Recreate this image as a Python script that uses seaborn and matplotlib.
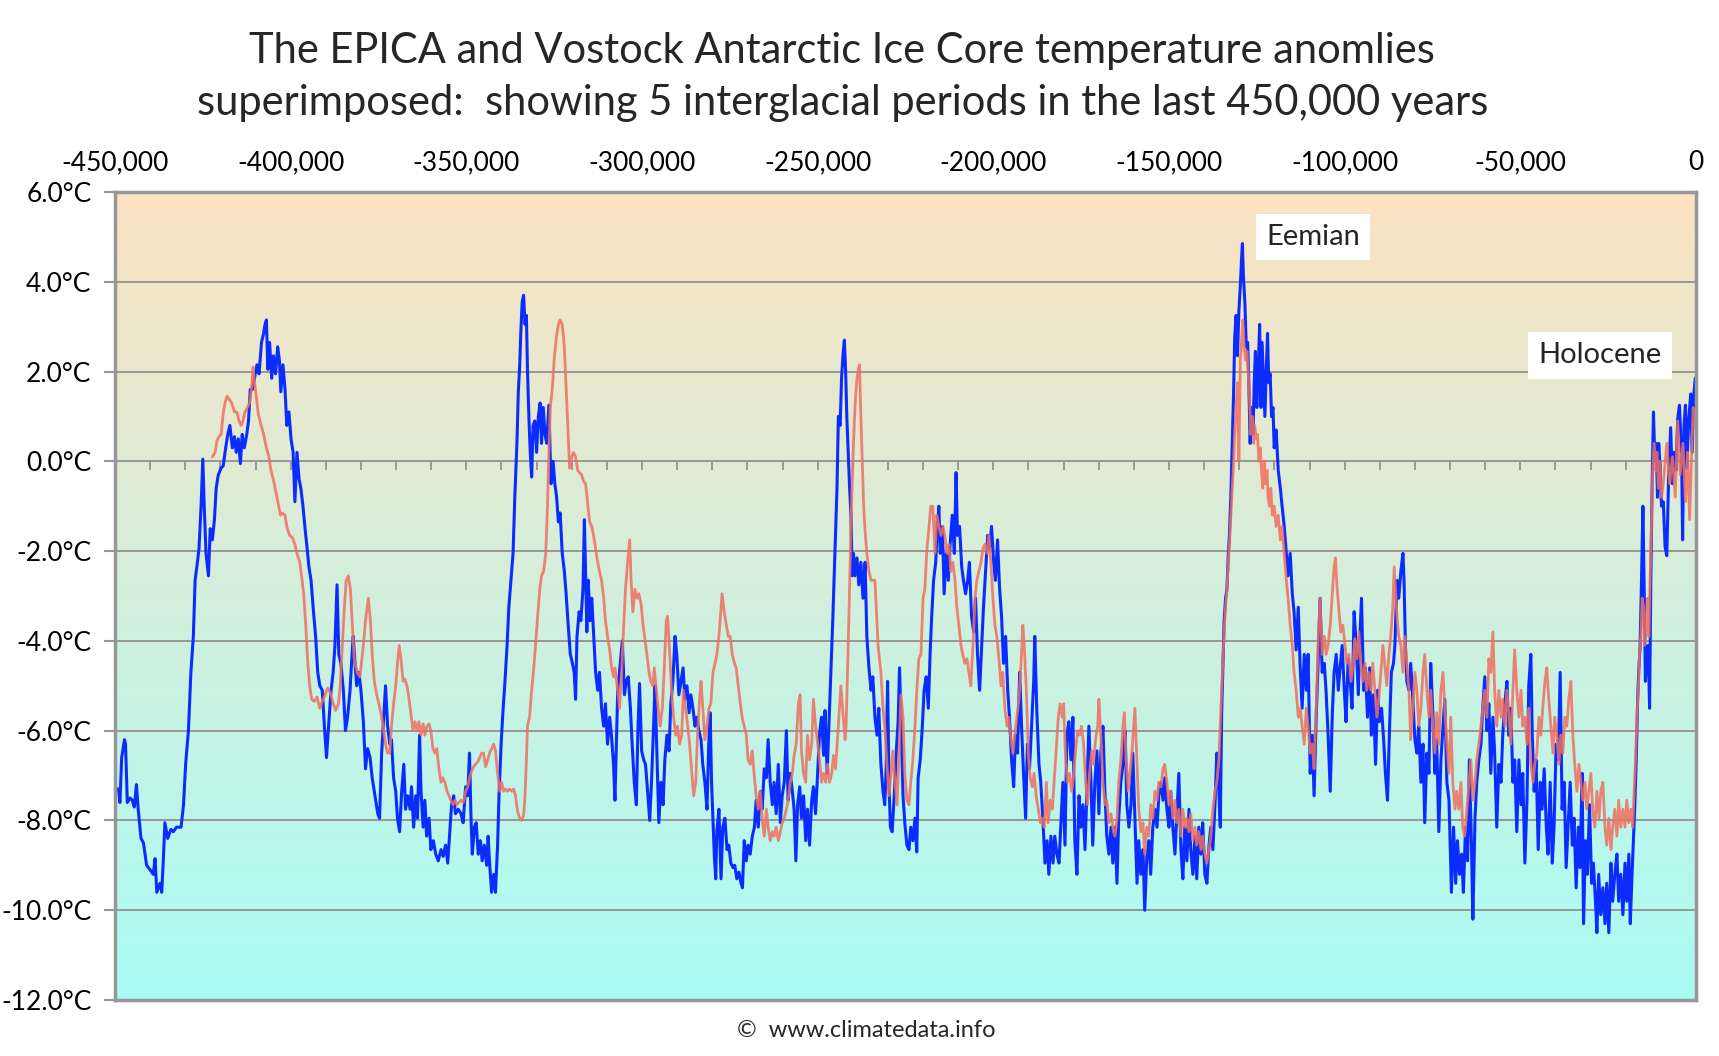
import matplotlib
matplotlib.use("Agg")
import matplotlib.pyplot as plt
import numpy as np
import pandas as pd
import seaborn as sns
from matplotlib.colors import LinearSegmentedColormap
from matplotlib.ticker import FuncFormatter

# (thousand years, temperature anomaly degC)
blue_pts = [
    (-450.0, -7.3), (-449.0, -7.3), (-448.6, -7.6), (-448.1, -6.6), (-447.3, -6.2), (-447.0, -6.3),
    (-446.5, -7.6), (-445.7, -7.5), (-445.1, -7.55), (-444.5, -7.7), (-443.9, -7.2), (-443.4, -7.75),
    (-442.6, -8.4), (-441.9, -8.5), (-441.0, -9.0), (-440.0, -9.1), (-439.1, -9.2), (-438.6, -8.85),
    (-438.1, -9.6), (-437.2, -9.4), (-436.7, -9.6), (-436.2, -8.8), (-435.8, -8.05), (-435.0, -8.4),
    (-434.1, -8.2), (-433.4, -8.25), (-432.5, -8.15), (-431.2, -8.15), (-430.5, -7.65), (-429.9, -6.75),
    (-429.1, -6.0), (-428.4, -4.7), (-427.7, -3.9), (-427.2, -2.65), (-426.7, -2.35), (-426.1, -1.95),
    (-425.5, -1.0), (-425.0, 0.05), (-424.6, -1.0), (-424.1, -2.05), (-423.4, -2.55), (-422.9, -1.5),
    (-422.3, -1.75), (-421.7, -1.3), (-421.2, -0.6), (-420.6, -0.3), (-419.8, -0.15), (-419.2, -0.1),
    (-418.5, 0.3), (-417.9, 0.6), (-417.3, 0.8), (-416.6, 0.3), (-416.0, 0.55), (-415.5, 0.2),
    (-414.9, 0.5), (-414.3, -0.05), (-413.8, 0.6), (-413.2, 0.3), (-412.5, 0.6), (-412.0, 0.9),
    (-411.5, 1.6), (-410.9, 1.6), (-410.3, 1.85), (-409.6, 2.15), (-409.0, 1.95), (-408.3, 2.65),
    (-407.7, 2.85), (-407.3, 3.05), (-406.9, 3.15), (-406.5, 2.05), (-406.0, 2.65), (-405.4, 1.85),
    (-404.9, 2.35), (-404.3, 1.95), (-403.7, 2.55), (-403.2, 2.25), (-402.8, 1.55), (-402.2, 2.15),
    (-401.6, 1.6), (-401.1, 0.8), (-400.5, 1.1), (-399.9, 0.5), (-399.3, 0.2), (-398.8, -0.9),
    (-398.2, 0.2), (-397.6, -0.4), (-397.1, -0.6), (-396.5, -1.0), (-395.9, -1.5), (-395.3, -1.95),
    (-394.8, -2.35), (-394.2, -2.65), (-393.5, -3.35), (-392.9, -3.9), (-392.3, -4.7), (-391.7, -5.0),
    (-391.0, -5.1), (-390.4, -5.9), (-389.8, -6.6), (-389.3, -6.0), (-388.5, -5.1), (-387.9, -4.7),
    (-387.4, -4.1), (-386.8, -2.75), (-386.3, -4.3), (-385.7, -4.5), (-385.0, -5.1), (-384.4, -6.0),
    (-383.8, -5.7), (-383.1, -5.1), (-382.6, -4.4), (-382.2, -3.9), (-381.5, -4.7),
    (-381.2, -5.0), (-380.6, -4.7), (-380.0, -5.1), (-379.3, -5.8), (-378.7, -6.85), (-378.1, -6.4),
    (-377.4, -6.6), (-376.8, -7.05), (-376.0, -7.45), (-375.2, -7.85), (-374.7, -7.95), (-374.1, -6.5),
    (-373.5, -5.7), (-373.0, -5.0), (-372.4, -5.9), (-371.8, -6.3), (-371.3, -6.2), (-370.7, -7.05),
    (-370.1, -7.35), (-369.6, -7.95), (-369.0, -8.25), (-368.4, -7.35), (-367.8, -6.75), (-367.3, -7.75),
    (-366.7, -7.45), (-366.0, -7.75), (-365.6, -7.25), (-365.0, -8.15), (-364.4, -7.45), (-363.9, -7.95),
    (-363.3, -6.1), (-362.9, -7.35), (-362.3, -8.15), (-361.8, -7.55), (-361.3, -8.35), (-360.6, -7.95),
    (-360.1, -8.65), (-359.4, -8.45), (-358.7, -8.75), (-358.0, -8.9), (-357.2, -8.65), (-356.6, -8.8),
    (-355.9, -8.55), (-355.3, -8.95), (-354.8, -8.35), (-354.2, -7.65), (-353.6, -7.45), (-353.1, -7.85),
    (-352.3, -7.75), (-351.5, -7.85), (-350.9, -8.05), (-350.2, -7.25), (-349.6, -7.45), (-349.1, -6.5),
    (-348.7, -7.85), (-348.3, -8.75), (-347.7, -8.15), (-347.2, -8.05), (-346.6, -8.75), (-346.0, -8.45),
    (-345.5, -8.9), (-344.9, -8.55), (-344.2, -9.0), (-343.8, -8.35), (-343.3, -9.05), (-342.8, -9.6),
    (-342.2, -9.2), (-341.7, -9.6), (-341.1, -8.55), (-340.7, -7.45), (-340.1, -6.3), (-339.6, -5.6),
    (-339.0, -4.9), (-338.4, -4.1), (-337.9, -3.25), (-337.3, -2.65), (-336.7, -2.05), (-336.2, -0.8),
    (-335.6, 0.4), (-335.2, 1.55), (-334.8, 2.15), (-334.5, 2.85), (-334.1, 3.55), (-333.7, 3.7),
    (-333.3, 3.05), (-332.9, 3.25), (-332.6, 2.05), (-332.2, 1.0), (-331.8, 0.2), (-331.4, -0.35),
    (-331.0, 0.8), (-330.5, 0.9), (-330.0, 0.2), (-329.5, 1.0), (-329.0, 1.3), (-328.6, 0.4),
    (-328.1, 1.2), (-327.6, 0.6), (-327.1, 0.4), (-326.5, 1.25), (-325.9, -0.5), (-325.3, 0.0),
    (-324.8, -0.5), (-324.3, -0.8), (-323.8, -1.35), (-323.3, -1.15), (-322.7, -2.05), (-322.1, -2.45),
    (-321.6, -2.95), (-321.0, -3.65), (-320.4, -4.3), (-319.8, -4.5), (-319.3, -4.7), (-318.9, -5.3),
    (-318.5, -3.9), (-317.9, -3.35), (-317.4, -3.55), (-316.8, -2.85), (-316.4, -1.3), (-316.0, -2.65),
    (-315.7, -3.8), (-315.3, -2.65), (-314.8, -3.55), (-314.3, -3.05), (-313.8, -3.8), (-313.2, -4.7),
    (-312.6, -5.1), (-312.1, -4.7), (-311.5, -5.5), (-310.9, -5.9), (-310.4, -5.4), (-309.8, -6.3),
    (-309.2, -5.7), (-308.7, -6.1), (-308.1, -6.75),
    (-307.7, -7.55), (-306.9, -5.1), (-306.3, -4.6), (-305.6, -4.0), (-305.0, -5.2), (-304.5, -4.9),
    (-303.9, -4.8), (-303.3, -5.5), (-302.8, -6.3), (-302.2, -7.15), (-301.6, -7.65), (-301.2, -6.1),
    (-300.7, -4.95), (-300.1, -6.45), (-299.5, -6.65), (-299.0, -6.75), (-298.4, -7.35), (-297.8, -8.0),
    (-297.3, -7.15), (-296.7, -5.9), (-296.3, -5.0), (-295.7, -6.65), (-295.2, -8.05), (-294.6, -7.15),
    (-294.0, -7.65), (-293.5, -6.65), (-292.9, -6.1), (-292.3, -6.45), (-291.8, -5.4), (-291.2, -4.9),
    (-290.6, -3.9), (-290.1, -4.3), (-289.5, -5.2), (-288.9, -4.9), (-288.3, -4.6), (-287.8, -5.3),
    (-287.2, -5.0), (-286.6, -5.6), (-286.1, -5.2), (-285.5, -5.5), (-284.9, -5.9), (-284.4, -5.7),
    (-283.8, -6.0), (-283.2, -6.2), (-282.7, -6.75), (-282.1, -7.15), (-281.5, -7.75), (-281.0, -6.3),
    (-280.6, -5.6), (-280.2, -7.15), (-279.8, -7.95), (-279.4, -8.8), (-279.0, -9.3), (-278.7, -8.25),
    (-278.1, -7.75), (-277.5, -9.3), (-277.0, -8.15), (-276.4, -7.95), (-275.8, -8.65), (-275.3, -8.55),
    (-274.7, -8.95), (-274.1, -9.05), (-273.6, -9.0), (-273.0, -9.3), (-272.4, -9.15), (-271.8, -9.4),
    (-271.4, -9.5), (-270.9, -8.45), (-270.3, -8.9), (-269.8, -8.55), (-269.2, -8.75), (-268.6, -8.35),
    (-268.0, -8.15), (-267.5, -7.55), (-266.9, -8.15), (-266.3, -7.35), (-265.8, -7.75), (-265.2, -6.85),
    (-264.6, -7.05), (-264.1, -6.2), (-263.5, -7.15), (-262.9, -7.65), (-262.4, -7.15), (-261.8, -7.85),
    (-261.2, -6.75), (-260.6, -8.05), (-260.1, -7.45), (-259.5, -7.15), (-258.9, -6.0), (-258.4, -7.55),
    (-257.8, -6.95), (-257.2, -7.35), (-256.7, -7.75), (-256.2, -8.9), (-255.7, -7.65), (-255.1, -7.25),
    (-254.6, -7.95), (-254.0, -7.45), (-253.4, -8.45), (-252.9, -7.75), (-252.3, -8.55), (-251.7, -7.55),
    (-251.2, -7.25), (-250.6, -7.85), (-250.0, -6.95), (-249.5, -6.1), (-248.9, -5.7), (-248.3, -6.55),
    (-247.9, -5.55), (-247.3, -6.95), (-246.8, -5.9), (-246.2, -4.7), (-245.7, -3.55), (-245.1, -2.05),
    (-244.5, -0.6), (-244.1, 1.0), (-243.6, 0.8), (-243.2, 1.85), (-242.8, 2.35), (-242.4, 2.7),
    (-242.05, 2.05), (-241.7, 1.0), (-241.3, 0.2), (-240.9, -0.6), (-240.5, -1.2), (-240.2, -2.55),
    (-239.8, -2.05), (-239.4, -2.55), (-238.8, -2.15), (-238.3, -2.75), (-237.7, -2.25), (-237.1, -3.05),
    (-236.5, -2.25), (-236.0, -3.9), (-235.4, -4.6), (-234.8, -5.1), (-234.3, -4.8),
    (-233.7, -5.7), (-233.1, -6.1), (-232.6, -5.5), (-232.0, -6.75), (-231.4, -7.35), (-230.9, -7.65),
    (-230.5, -6.85), (-230.1, -4.9), (-229.7, -7.15), (-229.3, -8.15), (-228.8, -8.25), (-228.2, -7.45),
    (-227.6, -6.45), (-227.1, -5.8), (-226.7, -4.6), (-226.3, -5.7), (-225.7, -7.45), (-225.2, -8.05),
    (-224.6, -8.55), (-224.0, -8.65), (-223.5, -8.15), (-222.9, -8.45), (-222.3, -7.95), (-221.8, -8.7),
    (-221.4, -7.05), (-220.8, -6.65), (-220.2, -5.9), (-219.7, -5.1), (-219.1, -4.8), (-218.5, -5.5),
    (-218.0, -4.3), (-217.6, -3.55), (-217.0, -2.65), (-216.4, -2.25), (-215.9, -1.45), (-215.5, -1.0),
    (-215.1, -2.05), (-214.5, -1.45), (-214.0, -2.95), (-213.4, -2.05), (-212.8, -2.65), (-212.3, -1.85),
    (-211.7, -1.2), (-211.1, -2.05), (-210.6, -0.25), (-210.2, -1.65), (-209.6, -1.45), (-209.0, -2.35),
    (-208.5, -2.65), (-207.9, -2.95), (-207.3, -2.65), (-206.8, -2.25), (-206.2, -3.45), (-205.6, -3.8),
    (-205.05, -3.05), (-204.5, -4.3), (-203.9, -5.1), (-203.3, -4.1), (-202.8, -3.25), (-202.2, -2.45),
    (-201.6, -1.65), (-201.1, -1.95), (-200.5, -1.45), (-199.9, -2.25), (-199.4, -2.65), (-198.8, -1.75),
    (-198.2, -2.85), (-197.65, -3.45), (-197.1, -4.5), (-196.5, -3.9), (-195.9, -5.1), (-195.4, -5.7),
    (-194.8, -6.65), (-194.2, -7.25), (-193.7, -6.1), (-193.1, -6.5), (-192.5, -4.7), (-191.96, -5.9),
    (-191.4, -6.95), (-190.8, -7.95), (-190.3, -6.3), (-189.7, -6.85), (-189.1, -5.9), (-188.5, -4.9),
    (-188.2, -3.9), (-187.6, -5.6), (-187.0, -6.75), (-186.5, -7.15), (-185.9, -7.95), (-185.3, -8.95),
    (-184.7, -8.45), (-184.2, -9.2), (-183.6, -8.35), (-183.0, -8.95), (-182.5, -8.35), (-181.9, -8.75),
    (-181.3, -8.95), (-180.8, -8.15), (-180.2, -7.15), (-179.6, -8.55), (-179.05, -6.1), (-178.5, -5.8),
    (-177.9, -6.65), (-177.35, -5.7), (-176.8, -8.45), (-176.2, -9.2), (-175.6, -7.45), (-175.1, -8.15),
    (-174.5, -7.65), (-173.9, -8.65), (-173.4, -7.45), (-172.8, -5.9), (-172.2, -7.15), (-171.7, -8.55),
    (-171.1, -7.15), (-170.5, -6.45), (-169.95, -7.85), (-169.4, -6.5), (-168.8, -5.9), (-168.2, -7.45),
    (-167.7, -8.35), (-167.1, -8.75), (-166.5, -8.15), (-166.0, -8.95), (-165.4, -8.15), (-164.8, -9.4),
    (-164.3, -7.95), (-163.7, -7.15), (-163.1, -6.75), (-162.5, -6.0), (-162.0, -7.65), (-161.4, -8.15),
    (-160.8, -7.65), (-160.3, -6.5),
    (-159.7, -7.95), (-159.1, -9.4), (-158.6, -8.45), (-158.0, -9.2), (-157.4, -8.65), (-156.9, -10.0),
    (-156.3, -8.8), (-155.7, -8.45), (-155.2, -9.2), (-154.6, -8.15), (-154.0, -7.75), (-153.4, -8.15),
    (-152.9, -7.45), (-152.3, -7.15), (-151.7, -7.55), (-151.2, -7.05), (-150.6, -7.75), (-150.0, -8.15),
    (-149.5, -7.35), (-148.9, -8.15), (-148.3, -8.75), (-147.8, -7.95), (-147.2, -6.95), (-146.6, -8.65),
    (-146.05, -9.3), (-145.5, -8.15), (-144.9, -8.9), (-144.3, -7.75), (-143.8, -8.65), (-143.2, -9.2),
    (-142.6, -8.35), (-142.1, -9.3), (-141.5, -8.15), (-140.9, -8.75), (-140.4, -8.05), (-139.8, -9.2),
    (-139.2, -9.4), (-138.6, -8.55), (-138.1, -8.15), (-137.5, -8.65), (-136.9, -7.65), (-136.4, -6.5),
    (-136.0, -6.95), (-135.4, -8.15), (-135.0, -5.6), (-134.7, -4.7), (-134.3, -3.55), (-133.9, -3.05),
    (-133.5, -2.85), (-133.1, -2.05), (-132.8, -1.65), (-132.4, -0.8), (-132.0, 0.4), (-131.6, 1.55),
    (-131.3, 2.75), (-130.9, 3.25), (-130.5, 2.35), (-130.1, 3.35), (-129.7, 3.9), (-129.35, 4.5),
    (-129.1, 4.85), (-128.8, 4.1), (-128.4, 3.55), (-128.0, 2.55), (-127.6, 2.65), (-127.3, 1.85),
    (-126.9, 0.4), (-126.5, 1.2), (-126.1, 0.6), (-125.7, 1.85), (-125.4, 2.45), (-125.0, 1.2),
    (-124.6, 2.05), (-124.2, 3.05), (-123.8, 1.2), (-123.5, 2.65), (-123.1, 1.85), (-122.7, 1.0),
    (-122.3, 2.05), (-121.95, 2.85), (-121.6, 1.75), (-121.2, 1.95), (-120.8, 1.0), (-120.4, 1.2),
    (-120.05, 0.3), (-119.5, 0.7), (-118.9, -0.2), (-118.3, -0.6), (-117.8, -1.0), (-117.2, -1.45),
    (-116.6, -2.05), (-116.1, -2.55), (-115.5, -2.05), (-114.9, -2.95), (-114.4, -3.35), (-113.8, -4.2),
    (-113.2, -3.25), (-112.7, -4.5), (-112.1, -5.5), (-111.5, -4.3), (-110.9, -5.1), (-110.4, -4.3),
    (-109.8, -6.95), (-109.2, -6.1), (-108.7, -7.45), (-108.1, -5.7), (-107.5, -4.4), (-107.0, -3.05),
    (-106.4, -4.7), (-105.8, -4.5), (-105.3, -5.1), (-104.7, -6.1), (-104.1, -7.35), (-103.5, -5.6),
    (-103.0, -4.7), (-102.4, -4.3), (-101.8, -5.1), (-101.3, -4.6), (-100.7, -4.1), (-100.1, -5.1),
    (-99.6, -5.8), (-99.0, -4.4), (-98.4, -4.9), (-97.9, -5.5), (-97.3, -3.35), (-96.7, -4.1),
    (-96.1, -5.2), (-95.6, -3.8), (-95.2, -3.05), (-94.6, -5.1), (-94.1, -4.6), (-93.5, -5.7),
    (-92.9, -4.6), (-92.4, -6.1), (-91.8, -5.2), (-91.2, -6.75), (-90.6, -5.1), (-90.1, -5.8),
    (-89.5, -5.5), (-88.9, -6.2), (-88.4, -6.95), (-87.8, -7.55), (-87.2, -5.9), (-86.7, -4.7),
    (-86.1, -4.5),
    (-85.7, -4.1), (-85.1, -2.65), (-84.6, -3.05), (-84.0, -2.45), (-83.4, -2.05), (-83.1, -2.65),
    (-82.7, -4.1), (-82.3, -4.9), (-81.7, -5.1), (-81.2, -4.5), (-80.6, -5.3), (-80.0, -6.2),
    (-79.45, -6.5), (-78.9, -5.9), (-78.3, -7.15), (-77.7, -6.3), (-77.2, -8.05), (-76.6, -6.5),
    (-76.0, -6.95), (-75.5, -4.5), (-74.9, -5.6), (-74.3, -6.95), (-73.8, -6.2), (-73.2, -8.25),
    (-72.6, -6.65), (-72.0, -5.9), (-71.5, -5.3), (-70.9, -7.15), (-70.3, -7.55), (-69.95, -8.55),
    (-69.6, -9.6), (-69.0, -8.15), (-68.4, -9.4), (-67.9, -8.45), (-67.3, -9.2), (-66.7, -8.75),
    (-66.2, -9.6), (-65.6, -8.15), (-65.0, -8.9), (-64.5, -6.65), (-63.9, -8.55), (-63.5, -10.2),
    (-62.9, -7.95), (-62.4, -7.15), (-61.8, -6.65), (-61.2, -6.3), (-60.7, -5.5), (-60.1, -4.8),
    (-59.5, -6.0), (-58.95, -5.4), (-58.4, -6.95), (-57.8, -5.7), (-57.3, -6.5), (-56.7, -8.15),
    (-56.1, -6.75), (-55.5, -7.15), (-55.0, -6.1), (-54.4, -5.4), (-53.8, -4.9), (-53.3, -6.1),
    (-52.7, -5.5), (-52.1, -7.15), (-51.6, -6.65), (-51.0, -8.25), (-50.4, -6.65), (-49.8, -7.65),
    (-49.3, -6.95), (-48.7, -8.95), (-48.1, -7.55), (-47.6, -5.0), (-47.0, -4.3), (-46.6, -6.1),
    (-46.05, -7.35), (-45.5, -6.65), (-44.9, -8.65), (-44.3, -7.15), (-43.8, -7.75), (-43.2, -6.85),
    (-42.6, -8.15), (-42.1, -8.75), (-41.5, -7.15), (-40.9, -8.95), (-40.4, -8.15), (-39.8, -6.3),
    (-39.2, -6.65), (-38.65, -4.7), (-38.1, -7.75), (-37.5, -7.15), (-36.95, -9.05), (-36.4, -8.15),
    (-35.8, -7.15), (-35.2, -8.55), (-34.7, -7.95), (-34.1, -9.5), (-33.5, -8.15), (-33.0, -9.05),
    (-32.4, -6.95), (-32.0, -10.3), (-31.45, -8.45), (-30.9, -9.2), (-30.3, -7.65), (-29.7, -9.4),
    (-29.2, -8.95), (-28.6, -9.8), (-28.2, -10.5), (-27.7, -9.2), (-27.1, -10.1), (-26.5, -9.5),
    (-25.9, -10.3), (-25.4, -9.4), (-24.8, -10.5), (-24.2, -8.95), (-23.7, -9.8), (-23.1, -9.2),
    (-22.5, -8.75), (-22.0, -9.8), (-21.4, -9.2), (-20.8, -10.1), (-20.2, -8.95), (-19.7, -9.8),
    (-19.1, -8.75), (-18.7, -10.3), (-18.2, -9.2), (-17.8, -8.45), (-17.4, -7.65), (-17.0, -6.65),
    (-16.6, -5.3), (-16.3, -4.7), (-15.9, -4.1), (-15.5, -2.65), (-15.1, -1.0), (-14.7, -3.05),
    (-14.4, -4.9), (-14.0, -4.3), (-13.6, -4.1), (-13.2, -5.5), (-12.85, -2.65), (-12.5, -0.6),
    (-12.1, 1.1), (-11.7, 0.0), (-11.3, 0.4), (-10.95, -0.8), (-10.6, 0.4), (-10.2, -0.2),
    (-9.8, -1.0), (-9.3, -0.9), (-8.8, -1.9), (-8.3, -2.1), (-7.8, -0.4), (-7.2, 0.75),
    (-6.7, -0.5), (-6.2, 0.2), (-5.7, -0.2), (-5.2, 0.95), (-4.7, 1.25), (-4.1, 0.2),
    (-3.8, -1.75), (-3.4, 0.8), (-3.0, 1.25), (-2.6, -0.15), (-2.05, 0.95), (-1.5, 1.5),
    (-1.1, 0.2), (-0.6, 1.5), (-0.2, 1.85),
]

red_pts = [
    (-422.3, 0.1), (-421.5, 0.2), (-421.0, 0.45), (-420.4, 0.55), (-419.8, 0.6), (-419.3, 1.0),
    (-418.7, 1.3), (-418.1, 1.45), (-417.6, 1.4), (-416.8, 1.3), (-416.0, 1.1), (-415.3, 1.1),
    (-414.7, 0.9), (-414.1, 0.8), (-413.6, 0.9), (-413.0, 1.1), (-412.3, 1.2), (-411.7, 1.3),
    (-411.1, 1.65), (-410.7, 2.1), (-410.4, 1.85), (-409.8, 1.45), (-409.2, 1.05), (-408.4, 0.8),
    (-407.7, 0.6), (-406.9, 0.3), (-406.2, 0.1), (-405.6, -0.2), (-404.8, -0.45), (-404.3, -0.65),
    (-403.7, -0.9), (-402.9, -1.2), (-402.4, -1.15), (-401.6, -1.2), (-401.1, -1.45), (-400.3, -1.65),
    (-399.5, -1.7), (-398.8, -1.85), (-398.2, -2.05), (-397.4, -2.25), (-396.9, -2.55), (-396.3, -2.95),
    (-395.7, -3.65), (-395.2, -4.4), (-394.6, -5.0), (-394.0, -5.3), (-393.3, -5.35), (-392.5, -5.25),
    (-391.7, -5.5), (-391.0, -5.35), (-390.2, -5.2), (-389.5, -5.05), (-388.7, -5.15), (-387.9, -5.4),
    (-387.2, -5.55), (-386.4, -5.4), (-385.9, -5.0), (-385.3, -4.1), (-384.7, -3.25), (-384.2, -2.65),
    (-383.6, -2.55), (-383.0, -2.85), (-382.5, -3.55), (-381.9, -4.4), (-381.1, -4.7),
    (-380.3, -4.8), (-379.3, -4.1), (-378.7, -3.55), (-377.9, -3.05), (-377.3, -3.55), (-376.8, -4.3),
    (-376.2, -4.9), (-375.5, -5.2), (-374.9, -5.4), (-374.1, -5.7), (-373.5, -6.0), (-373.0, -6.3),
    (-372.4, -6.5), (-371.8, -6.5), (-371.3, -5.9), (-370.7, -5.4), (-370.1, -5.0), (-369.6, -4.5),
    (-369.1, -4.1), (-368.6, -4.4), (-368.0, -4.9), (-367.5, -4.85), (-366.9, -5.0), (-366.3, -5.3),
    (-365.8, -5.6), (-365.2, -6.0), (-364.6, -5.8), (-364.05, -6.0), (-363.5, -5.8), (-362.9, -6.1),
    (-362.3, -5.85), (-361.8, -6.1), (-361.2, -5.9), (-360.6, -5.85), (-360.1, -6.0), (-359.5, -6.4),
    (-358.9, -6.5), (-358.4, -6.4), (-357.8, -6.85), (-357.2, -7.15), (-356.7, -7.05), (-356.1, -7.15),
    (-355.5, -7.35), (-354.95, -7.45), (-354.4, -7.55), (-353.8, -7.65), (-353.2, -7.55), (-352.7, -7.65),
    (-352.1, -7.6), (-351.5, -7.55), (-350.8, -7.6), (-350.2, -7.35), (-349.6, -7.25), (-349.1, -7.05),
    (-348.5, -6.9), (-347.9, -6.8), (-347.4, -6.75), (-346.8, -6.7), (-346.2, -6.6), (-345.6, -6.5),
    (-345.1, -6.5), (-344.5, -6.8), (-343.9, -6.65), (-343.4, -6.5), (-342.8, -6.4), (-342.2, -6.3),
    (-341.7, -6.45), (-341.1, -6.95), (-340.5, -7.35), (-339.96, -7.15), (-339.4, -7.35), (-338.8, -7.3),
    (-338.3, -7.35), (-337.7, -7.3), (-337.1, -7.35), (-336.5, -7.3), (-336.0, -7.45), (-335.4, -7.8),
    (-334.8, -7.95), (-334.3, -8.0), (-333.7, -7.9), (-333.3, -7.45), (-332.9, -6.65), (-332.6, -5.9),
    (-332.0, -5.7), (-331.4, -5.1), (-330.8, -4.6), (-330.3, -4.1), (-329.7, -3.45), (-329.1, -2.85),
    (-328.6, -2.55), (-328.0, -2.45), (-327.4, -2.05), (-326.9, -1.0), (-326.5, 0.2), (-326.1, 1.2),
    (-325.5, 1.65), (-325.0, 2.25), (-324.4, 2.75), (-323.8, 3.05), (-323.3, 3.15), (-322.7, 3.05),
    (-322.1, 2.55), (-321.55, 1.55), (-321.0, 0.6), (-320.6, -0.15), (-320.0, 0.1), (-319.5, 0.2),
    (-318.9, 0.1), (-318.3, -0.2), (-317.8, -0.25), (-317.2, -0.3), (-316.6, -0.45), (-316.05, -0.5),
    (-315.5, -0.9), (-314.9, -1.35), (-314.3, -1.45), (-313.8, -1.65), (-313.2, -1.95), (-312.6, -2.25),
    (-312.1, -2.45), (-311.5, -2.65), (-310.9, -3.05), (-310.4, -3.55), (-309.8, -3.9), (-309.2, -4.2),
    (-308.65, -4.6), (-308.1, -4.8),
    (-307.7, -4.6), (-306.9, -5.1), (-306.4, -5.5), (-305.8, -4.7), (-305.2, -3.65), (-304.7, -2.85),
    (-304.1, -2.25), (-303.5, -1.75), (-303.1, -2.65), (-302.6, -3.35), (-302.0, -2.85), (-301.4, -3.05),
    (-300.9, -2.95), (-300.3, -3.15), (-299.7, -3.65), (-299.2, -3.95), (-298.6, -4.3), (-298.0, -4.7),
    (-297.5, -4.9), (-296.9, -5.0), (-296.5, -4.6), (-295.9, -5.1), (-295.4, -5.5), (-294.8, -5.9),
    (-294.2, -5.5), (-293.7, -4.7), (-293.1, -3.55), (-292.7, -3.45), (-292.1, -4.3), (-291.6, -5.1),
    (-291.0, -5.7), (-290.4, -6.1), (-289.9, -5.9), (-289.3, -6.3), (-288.7, -6.1), (-288.2, -5.1),
    (-287.6, -5.5), (-287.0, -5.9), (-286.45, -6.3), (-285.9, -6.85), (-285.3, -7.45), (-284.7, -7.15),
    (-284.2, -6.1), (-283.6, -5.3), (-283.2, -4.9), (-282.7, -5.5), (-282.1, -6.2), (-281.5, -5.9),
    (-280.95, -5.5), (-280.4, -5.4), (-279.8, -4.7), (-279.2, -4.5), (-278.7, -4.3), (-278.1, -3.9),
    (-277.5, -3.25), (-277.2, -2.95), (-276.6, -3.35), (-276.0, -3.65), (-275.4, -3.9), (-274.9, -3.9),
    (-274.3, -4.3), (-273.7, -4.5), (-273.2, -4.6), (-272.6, -5.0), (-272.0, -5.4), (-271.5, -5.7),
    (-270.9, -5.9), (-270.3, -6.1), (-269.8, -6.65), (-269.2, -6.75), (-268.6, -6.45), (-268.1, -6.95),
    (-267.5, -7.45), (-266.9, -7.75), (-266.3, -7.35), (-265.8, -7.95), (-265.2, -8.35), (-264.6, -7.75),
    (-264.1, -8.15), (-263.5, -8.45), (-262.9, -8.25), (-262.4, -8.35), (-261.8, -8.15), (-261.2, -8.45),
    (-260.6, -8.25), (-260.1, -8.05), (-259.5, -7.95), (-258.9, -7.75), (-258.4, -7.55), (-257.8, -7.15),
    (-257.2, -6.95), (-256.7, -6.55), (-256.1, -6.3), (-255.5, -5.4), (-255.0, -5.2), (-254.6, -6.45),
    (-254.0, -6.95), (-253.4, -7.15), (-252.9, -6.1), (-252.3, -6.65), (-251.7, -6.3), (-251.2, -5.3),
    (-250.6, -5.9), (-250.0, -6.3), (-249.45, -6.65), (-248.9, -7.15), (-248.3, -6.95), (-247.7, -7.15),
    (-247.2, -6.75), (-246.6, -7.15), (-246.0, -6.95), (-245.5, -6.55), (-244.9, -6.85), (-244.3, -6.1),
    (-243.8, -5.5), (-243.4, -5.0), (-242.8, -5.6), (-242.2, -6.2), (-241.9, -5.9), (-241.5, -4.7),
    (-241.1, -3.45), (-240.7, -2.05), (-240.3, -0.8), (-239.9, 0.2), (-239.6, 0.8), (-239.2, 1.45),
    (-238.8, 1.85), (-238.4, 2.05), (-238.1, 2.15), (-237.7, 1.0), (-237.3, 0.0), (-236.9, -1.0),
    (-236.5, -1.55), (-236.0, -2.05), (-235.4, -2.45), (-234.8, -2.65),
    (-233.7, -2.65), (-232.8, -4.1), (-232.0, -4.7), (-231.4, -5.5), (-230.9, -5.9), (-230.3, -6.75),
    (-229.7, -7.45), (-229.1, -6.95), (-228.6, -6.45), (-228.0, -7.15), (-227.4, -7.65), (-226.9, -6.65),
    (-226.3, -5.2), (-225.7, -5.7), (-225.2, -6.95), (-224.6, -7.55), (-224.0, -7.65), (-223.5, -7.15),
    (-222.9, -6.65), (-222.3, -5.9), (-221.7, -5.0), (-221.2, -4.4), (-220.6, -4.3), (-220.0, -3.05),
    (-219.5, -2.85), (-218.9, -1.95), (-218.3, -1.45), (-217.8, -1.0), (-217.2, -1.0), (-216.6, -2.05),
    (-216.1, -1.2), (-215.5, -1.45), (-214.9, -1.65), (-214.3, -1.45), (-213.8, -1.65), (-213.2, -2.05),
    (-212.6, -1.85), (-212.1, -2.45), (-211.5, -2.25), (-210.9, -2.65), (-210.4, -3.25), (-209.8, -3.65),
    (-209.2, -4.1), (-208.7, -4.3), (-208.1, -4.5), (-207.5, -4.4), (-206.95, -4.7), (-206.4, -5.0),
    (-205.8, -4.1), (-205.2, -3.05), (-204.7, -2.65), (-204.1, -2.45), (-203.5, -2.25), (-203.0, -1.95),
    (-202.4, -1.85), (-201.8, -2.05), (-201.25, -1.65), (-200.7, -2.25), (-200.1, -3.05), (-199.55, -3.65),
    (-199.0, -3.9), (-198.4, -4.4), (-197.8, -5.0), (-197.3, -4.7), (-196.7, -5.5), (-196.1, -5.9),
    (-195.6, -5.7), (-195.0, -6.2), (-194.4, -6.5), (-193.9, -6.1), (-193.3, -5.7), (-192.7, -5.3),
    (-192.1, -4.5), (-191.6, -3.65), (-191.2, -4.1), (-190.6, -5.1), (-190.05, -6.5), (-189.5, -7.05),
    (-188.9, -7.25), (-188.4, -6.95), (-187.8, -7.45), (-187.2, -7.75), (-186.6, -8.05), (-186.1, -7.95),
    (-185.5, -8.15), (-184.9, -7.15), (-184.4, -8.05), (-183.8, -7.55), (-183.2, -7.75), (-182.7, -7.15),
    (-182.1, -6.45), (-181.5, -5.7), (-181.0, -5.4), (-180.4, -5.7), (-180.0, -5.4), (-179.4, -6.65),
    (-178.9, -7.15), (-178.3, -6.95), (-177.7, -7.35), (-177.2, -7.05), (-176.6, -6.45), (-176.0, -6.0),
    (-175.45, -6.1), (-174.9, -5.9), (-174.3, -6.3), (-173.7, -7.15), (-173.2, -7.65), (-172.6, -6.95),
    (-172.0, -6.45), (-171.5, -6.75), (-170.9, -6.2), (-170.3, -5.9), (-169.95, -5.3), (-169.4, -6.1),
    (-168.8, -7.15), (-168.2, -7.65), (-167.7, -7.55), (-167.1, -8.05), (-166.5, -7.85), (-166.0, -8.15),
    (-165.4, -8.35), (-164.8, -7.95), (-164.3, -7.15), (-163.7, -6.65), (-163.1, -5.9), (-162.7, -5.6),
    (-162.2, -6.65), (-161.6, -7.35), (-161.0, -6.85), (-160.5, -6.45),
    (-159.7, -5.5), (-159.1, -6.75), (-158.6, -7.75), (-158.0, -8.25), (-157.4, -8.05), (-156.9, -8.75),
    (-156.3, -8.15), (-155.7, -8.35), (-155.2, -7.65), (-154.6, -7.95), (-154.0, -7.35), (-153.4, -7.55),
    (-152.9, -7.15), (-152.3, -7.25), (-151.7, -6.85), (-151.2, -6.75), (-150.6, -7.15), (-150.0, -7.65),
    (-149.5, -7.35), (-148.9, -7.95), (-148.3, -7.55), (-147.8, -8.05), (-147.2, -7.75), (-146.6, -8.35),
    (-146.05, -7.75), (-145.5, -8.15), (-144.9, -7.95), (-144.3, -8.25), (-143.8, -7.85), (-143.2, -8.45),
    (-142.6, -8.15), (-142.1, -8.55), (-141.5, -8.25), (-140.9, -8.65), (-140.4, -8.35), (-139.8, -8.75),
    (-139.2, -8.95), (-138.6, -8.65), (-138.1, -8.35), (-137.5, -7.75), (-136.9, -7.35), (-136.4, -7.15),
    (-135.8, -6.65), (-135.4, -5.9), (-135.0, -5.1), (-134.7, -4.5), (-134.3, -3.8), (-133.9, -3.25),
    (-133.5, -2.85), (-133.1, -2.25), (-132.8, -1.85), (-132.4, -1.2), (-132.0, -0.6), (-131.6, 0.0),
    (-131.3, 0.6), (-130.9, 1.2), (-130.5, 1.75), (-130.1, 0.0), (-129.7, 2.25), (-129.35, 2.65),
    (-129.0, 3.15), (-128.6, 2.55), (-128.2, 2.25), (-127.8, 2.45), (-127.5, 2.05), (-127.1, 1.45),
    (-126.7, 0.6), (-126.3, 1.0), (-125.9, 0.4), (-125.6, 0.8), (-125.2, 0.5), (-124.8, 0.6),
    (-124.4, 0.0), (-124.0, 0.3), (-123.7, -0.2), (-123.3, -0.6), (-122.9, 0.0), (-122.5, -0.5),
    (-122.1, -0.2), (-121.8, -0.8), (-121.4, -1.0), (-121.0, -0.6), (-120.6, -1.2), (-120.05, -1.0),
    (-119.5, -1.45), (-118.9, -1.2), (-118.3, -1.75), (-117.8, -1.45), (-117.2, -2.05), (-116.6, -2.65),
    (-116.1, -3.05), (-115.5, -3.65), (-114.9, -4.1), (-114.4, -4.7), (-113.8, -5.1), (-113.2, -5.7),
    (-112.65, -5.5), (-112.1, -5.9), (-111.5, -6.3), (-110.9, -5.5), (-110.4, -5.9), (-109.8, -6.5),
    (-109.2, -6.3), (-108.7, -6.85), (-108.1, -5.5), (-107.5, -3.9), (-107.0, -3.05), (-106.4, -4.3),
    (-105.8, -3.9), (-105.25, -4.3), (-104.7, -4.1), (-104.1, -3.65), (-103.5, -2.95), (-103.0, -2.35),
    (-102.6, -2.15), (-102.2, -2.75), (-101.6, -3.35), (-101.1, -3.8), (-100.5, -3.65), (-99.9, -4.1),
    (-99.4, -4.5), (-98.8, -4.3), (-98.2, -4.9), (-97.7, -4.6), (-97.1, -3.95), (-96.5, -4.4),
    (-95.95, -3.8), (-95.4, -4.5), (-94.8, -4.9), (-94.2, -4.5), (-93.7, -5.1), (-93.1, -4.7),
    (-92.5, -5.1), (-92.0, -4.5), (-91.4, -5.1), (-90.8, -5.7), (-90.3, -5.3), (-89.7, -4.7),
    (-89.1, -4.1), (-88.6, -4.5), (-88.0, -5.0), (-87.4, -4.3), (-86.9, -3.9), (-86.3, -3.25),
    (-85.9, -2.35),
    (-85.1, -3.45), (-84.6, -3.9), (-84.0, -4.1), (-83.4, -4.7), (-82.9, -3.9), (-82.3, -4.5),
    (-81.7, -5.1), (-81.2, -6.2), (-80.6, -5.5), (-80.0, -4.7), (-79.45, -5.1), (-78.9, -5.9),
    (-78.3, -5.5), (-77.7, -4.7), (-77.2, -4.3), (-76.6, -5.1), (-76.0, -5.7), (-75.5, -5.1),
    (-74.9, -5.9), (-74.3, -6.5), (-73.8, -5.6), (-73.2, -6.3), (-72.6, -5.1), (-72.0, -4.7),
    (-71.5, -5.5), (-70.9, -6.3), (-70.3, -6.95), (-69.8, -5.7), (-69.2, -7.15), (-68.6, -7.75),
    (-68.1, -7.35), (-67.5, -7.75), (-66.9, -7.15), (-66.4, -8.15), (-65.8, -8.35), (-65.2, -7.75),
    (-64.6, -7.15), (-64.1, -6.65), (-63.5, -7.55), (-62.9, -7.15), (-62.4, -6.65), (-61.8, -6.3),
    (-61.2, -5.9), (-60.7, -5.5), (-60.1, -5.1), (-59.5, -5.7), (-58.95, -4.4), (-58.4, -4.7),
    (-57.8, -3.8), (-57.3, -5.1), (-56.7, -5.9), (-56.1, -5.1), (-55.5, -5.7), (-55.0, -5.3),
    (-54.4, -5.9), (-53.8, -5.1), (-53.3, -5.6), (-52.7, -6.3), (-52.1, -5.1), (-51.6, -4.2),
    (-51.0, -5.1), (-50.4, -5.7), (-49.8, -5.1), (-49.3, -5.9), (-48.7, -5.7), (-48.1, -6.3),
    (-47.6, -5.5), (-47.0, -6.75), (-46.4, -7.15), (-45.9, -6.75), (-45.3, -6.5), (-44.7, -5.7),
    (-44.15, -6.1), (-43.6, -5.5), (-43.0, -4.9), (-42.45, -4.6), (-41.9, -5.3), (-41.3, -5.9),
    (-40.7, -6.5), (-40.2, -5.7), (-39.6, -6.1), (-39.0, -6.75), (-38.5, -6.1), (-37.9, -6.5),
    (-37.3, -5.7), (-36.75, -5.9), (-36.2, -5.3), (-35.6, -4.9), (-35.05, -6.1), (-34.5, -6.75),
    (-33.9, -7.35), (-33.3, -6.75), (-32.8, -7.15), (-32.2, -7.55), (-31.6, -7.15), (-31.1, -7.75),
    (-30.5, -7.35), (-29.9, -6.95), (-29.4, -7.75), (-28.8, -8.15), (-28.2, -7.35), (-27.6, -7.95),
    (-27.1, -7.35), (-26.5, -7.15), (-25.9, -8.15), (-25.4, -8.55), (-24.8, -7.95), (-24.2, -8.65),
    (-23.7, -8.15), (-23.1, -7.75), (-22.5, -8.35), (-22.0, -7.55), (-21.4, -8.15), (-20.8, -7.75),
    (-20.2, -8.15), (-19.7, -7.55), (-19.1, -8.05), (-18.5, -7.75), (-18.0, -8.15), (-17.6, -7.35),
    (-17.2, -6.65), (-16.8, -5.7), (-16.4, -5.1), (-16.1, -4.3), (-15.7, -3.9), (-15.3, -3.05),
    (-14.9, -3.25), (-14.6, -4.1), (-14.2, -3.65), (-13.8, -3.05), (-13.4, -3.9), (-13.0, -2.45),
    (-12.6, -1.2), (-12.3, -0.2), (-11.9, 0.4), (-11.5, -0.2), (-11.1, 0.2), (-10.7, -0.6),
    (-10.4, 0.0), (-9.8, -0.8), (-9.2, -0.4), (-8.3, 0.4), (-7.5, -0.5), (-6.7, 0.1),
    (-5.9, -0.8), (-5.2, 0.9), (-4.5, -0.3), (-3.7, 0.4), (-3.0, -0.9), (-2.4, 0.2),
    (-1.8, -1.3), (-1.3, 0.0), (-0.8, 1.2), (-0.2, 0.8),
]

x_ticks = list(range(-450000, 1, 50000))
y_ticks = list(range(-12, 7, 2))
zero_line_ticks = list(range(-440000, 0, 10000))

title_1 = "The EPICA and Vostock Antarctic Ice Core temperature anomlies"
title_2 = "superimposed:  showing 5 interglacial periods in the last 450,000 years"


def to_frame(pts):
    df = pd.DataFrame(pts, columns=["kyr", "temp"])
    df["year"] = df["kyr"] * 1000
    return df.sort_values("year")


blue = to_frame(blue_pts)
red = to_frame(red_pts)

sns.set_style("white")
plt.rcParams["font.family"] = ["Lato", "DejaVu Sans"]

fig = plt.figure(figsize=(17.19, 10.56), dpi=100)
ax = fig.add_axes([0.0669, 0.053, 0.9197, 0.7652])

# background gradient, peach at the top to cyan at the bottom
bg = LinearSegmentedColormap.from_list("bg", ["#fce2c2", "#a9fcf5"])
grad = np.linspace(0, 1, 256).reshape(-1, 1)
ax.imshow(grad, aspect="auto", cmap=bg, extent=[-450000, 0, -12, 6], origin="upper", zorder=0)

for v in y_ticks[1:-1]:
    ax.axhline(v, color="#979797", lw=1.4, zorder=1)
ax.vlines(zero_line_ticks, -0.2, 0, color="#979797", lw=1.4, zorder=1)

sns.lineplot(data=blue, x="year", y="temp", color="#0b2cff", lw=2.2,
             estimator=None, sort=False, ax=ax, zorder=3)
sns.lineplot(data=red, x="year", y="temp", color="#ef6f60", lw=2.0, alpha=0.85,
             estimator=None, sort=False, ax=ax, zorder=4)

ax.set_xlim(-450000, 0)
ax.set_ylim(-12, 6)
ax.set_xlabel("")
ax.set_ylabel("")

ax.xaxis.tick_top()
ax.set_xticks(x_ticks)
ax.xaxis.set_major_formatter(FuncFormatter(lambda v, p: f"{int(v):,}"))
ax.tick_params(axis="x", top=True, bottom=False, labeltop=True, labelbottom=False,
               length=0, pad=12, labelsize=19, labelcolor="black")
ax.set_yticks(y_ticks)
ax.yaxis.set_major_formatter(FuncFormatter(lambda v, p: f"{v:.1f}°C"))
ax.tick_params(axis="y", left=True, length=8, width=1.5, color="#979797",
               pad=9, labelsize=19, labelcolor="black", direction="out")

for s in ax.spines.values():
    s.set_visible(True)
    s.set_color("#979797")
    s.set_linewidth(2.5)
    s.set_zorder(5)

box = dict(facecolor="white", edgecolor="none", boxstyle="square,pad=0.35")
ax.text(-109000, 5.0, "Eemian", fontsize=21, ha="center", va="center", bbox=box, zorder=6)
ax.text(-27400, 2.36, "Holocene", fontsize=21, ha="center", va="center", bbox=box, zorder=6)

fig.text(0.49, 0.952, title_1, ha="center", va="center", fontsize=30)
fig.text(0.49, 0.902, title_2, ha="center", va="center", fontsize=30)
fig.text(0.504, 0.024, "©  www.climatedata.info", ha="center", va="center", fontsize=17)

fig.savefig("out.png", dpi=100)
